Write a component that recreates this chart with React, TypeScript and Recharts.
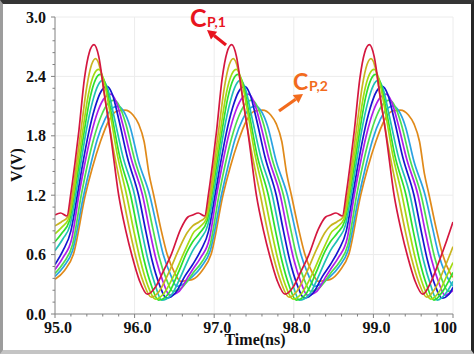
import { LineChart, Line, XAxis, YAxis, CartesianGrid } from 'recharts';

// x axis (ns) and y axis (V) ticks
const X_MAJOR = [95, 96, 97, 98, 99, 100];
const X_LABELS = ['95.0', '96.0', '97.0', '98.0', '99.0', '100'];
const Y_MAJOR = [0, 0.6, 1.2, 1.8, 2.4, 3.0];
const Y_LABELS = ['0.0', '0.6', '1.2', '1.8', '2.4', '3.0'];

// [time ns, voltage V], from C_P,1 (red) to C_P,2 (orange)
const RED: [number, number][] = [
  [95.00, 1.00], [95.07, 1.02], [95.15, 0.99], [95.20, 1.22], [95.25, 1.52], [95.30, 1.85], [95.37, 2.38], [95.43, 2.64], [95.49, 2.72], [95.55, 2.60], [95.62, 2.22], [95.70, 1.80], [95.80, 1.20], [95.89, 0.84], [95.97, 0.58], [96.06, 0.34], [96.16, 0.20], [96.26, 0.27], [96.36, 0.43], [96.46, 0.60], [96.58, 0.86], [96.67, 0.98],
  [96.73, 1.00], [96.80, 1.02], [96.88, 0.99], [96.93, 1.22], [96.98, 1.52], [97.03, 1.85], [97.10, 2.38], [97.16, 2.64], [97.22, 2.72], [97.28, 2.60], [97.35, 2.22], [97.43, 1.80], [97.53, 1.20], [97.62, 0.84], [97.70, 0.58], [97.79, 0.34], [97.89, 0.20], [97.99, 0.27], [98.09, 0.43], [98.19, 0.60], [98.31, 0.86], [98.40, 0.98],
  [98.46, 1.00], [98.53, 1.02], [98.61, 0.99], [98.66, 1.22], [98.71, 1.52], [98.76, 1.85], [98.83, 2.38], [98.89, 2.64], [98.95, 2.72], [99.01, 2.60], [99.08, 2.22], [99.16, 1.80], [99.26, 1.20], [99.35, 0.84], [99.43, 0.58], [99.52, 0.34], [99.62, 0.20], [99.72, 0.32], [99.82, 0.52], [99.92, 0.74], [100.00, 0.93],
];
const OLIVE: [number, number][] = [
  [95.00, 0.89], [95.08, 0.93], [95.16, 0.98], [95.22, 1.22], [95.27, 1.52], [95.33, 1.88], [95.40, 2.30], [95.46, 2.52], [95.51, 2.58], [95.57, 2.47], [95.64, 2.12], [95.73, 1.68], [95.85, 1.20], [95.94, 0.84], [96.02, 0.56], [96.11, 0.32], [96.21, 0.17], [96.31, 0.23], [96.43, 0.42], [96.56, 0.66], [96.66, 0.82],
  [96.73, 0.89], [96.81, 0.93], [96.89, 0.98], [96.95, 1.22], [97.00, 1.52], [97.06, 1.88], [97.13, 2.30], [97.19, 2.52], [97.24, 2.58], [97.30, 2.47], [97.37, 2.12], [97.46, 1.68], [97.58, 1.20], [97.67, 0.84], [97.75, 0.56], [97.84, 0.32], [97.94, 0.17], [98.04, 0.23], [98.16, 0.42], [98.29, 0.66], [98.39, 0.82],
  [98.46, 0.89], [98.54, 0.93], [98.62, 0.98], [98.68, 1.22], [98.73, 1.52], [98.79, 1.88], [98.86, 2.30], [98.92, 2.52], [98.97, 2.58], [99.03, 2.47], [99.10, 2.12], [99.19, 1.68], [99.31, 1.20], [99.40, 0.84], [99.48, 0.56], [99.57, 0.32], [99.67, 0.17], [99.77, 0.25], [99.89, 0.46], [100.00, 0.68],
];
const LIME: [number, number][] = [
  [95.00, 0.81], [95.09, 0.88], [95.17, 0.96], [95.23, 1.20], [95.28, 1.48], [95.35, 1.86], [95.42, 2.22], [95.49, 2.42], [95.55, 2.47], [95.61, 2.37], [95.69, 2.04], [95.78, 1.62], [95.90, 1.20], [95.99, 0.84], [96.07, 0.55], [96.16, 0.30], [96.26, 0.15], [96.37, 0.21], [96.50, 0.40], [96.62, 0.62], [96.70, 0.76],
  [96.73, 0.81], [96.82, 0.88], [96.90, 0.96], [96.96, 1.20], [97.01, 1.48], [97.08, 1.86], [97.15, 2.22], [97.22, 2.42], [97.28, 2.47], [97.34, 2.37], [97.42, 2.04], [97.51, 1.62], [97.63, 1.20], [97.72, 0.84], [97.80, 0.55], [97.89, 0.30], [97.99, 0.15], [98.10, 0.21], [98.23, 0.40], [98.35, 0.62], [98.43, 0.76],
  [98.46, 0.81], [98.55, 0.88], [98.63, 0.96], [98.69, 1.20], [98.74, 1.48], [98.81, 1.86], [98.88, 2.22], [98.95, 2.42], [99.01, 2.47], [99.07, 2.37], [99.15, 2.04], [99.24, 1.62], [99.36, 1.20], [99.45, 0.84], [99.53, 0.55], [99.62, 0.30], [99.72, 0.15], [99.83, 0.23], [99.93, 0.40], [100.00, 0.52],
];
const GREEN: [number, number][] = [
  [95.00, 0.73], [95.09, 0.82], [95.18, 0.94], [95.24, 1.20], [95.30, 1.50], [95.37, 1.86], [95.44, 2.18], [95.51, 2.37], [95.57, 2.42], [95.63, 2.33], [95.71, 2.02], [95.81, 1.60], [95.95, 1.20], [96.04, 0.84], [96.12, 0.54], [96.21, 0.29], [96.30, 0.14], [96.42, 0.20], [96.55, 0.42], [96.66, 0.63],
  [96.73, 0.73], [96.82, 0.82], [96.91, 0.94], [96.97, 1.20], [97.03, 1.50], [97.10, 1.86], [97.17, 2.18], [97.24, 2.37], [97.30, 2.42], [97.36, 2.33], [97.44, 2.02], [97.54, 1.60], [97.68, 1.20], [97.77, 0.84], [97.85, 0.54], [97.94, 0.29], [98.03, 0.14], [98.15, 0.20], [98.28, 0.42], [98.39, 0.63],
  [98.46, 0.73], [98.55, 0.82], [98.64, 0.94], [98.70, 1.20], [98.76, 1.50], [98.83, 1.86], [98.90, 2.18], [98.97, 2.37], [99.03, 2.42], [99.09, 2.33], [99.17, 2.02], [99.27, 1.60], [99.41, 1.20], [99.50, 0.84], [99.58, 0.54], [99.67, 0.29], [99.76, 0.14], [99.88, 0.24], [100.00, 0.42],
];
const TEAL: [number, number][] = [
  [95.00, 0.64], [95.10, 0.76], [95.19, 0.90], [95.26, 1.20], [95.32, 1.50], [95.39, 1.84], [95.47, 2.14], [95.54, 2.31], [95.60, 2.36], [95.66, 2.28], [95.74, 2.00], [95.85, 1.60], [96.00, 1.20], [96.09, 0.84], [96.17, 0.54], [96.26, 0.29], [96.34, 0.14], [96.46, 0.19], [96.58, 0.38], [96.68, 0.56],
  [96.73, 0.64], [96.83, 0.76], [96.92, 0.90], [96.99, 1.20], [97.05, 1.50], [97.12, 1.84], [97.20, 2.14], [97.27, 2.31], [97.33, 2.36], [97.39, 2.28], [97.47, 2.00], [97.58, 1.60], [97.73, 1.20], [97.82, 0.84], [97.90, 0.54], [97.99, 0.29], [98.07, 0.14], [98.19, 0.19], [98.31, 0.38], [98.41, 0.56],
  [98.46, 0.64], [98.56, 0.76], [98.65, 0.90], [98.72, 1.20], [98.78, 1.50], [98.85, 1.84], [98.93, 2.14], [99.00, 2.31], [99.06, 2.36], [99.12, 2.28], [99.20, 2.00], [99.31, 1.60], [99.46, 1.20], [99.55, 0.84], [99.63, 0.54], [99.72, 0.29], [99.80, 0.14], [99.92, 0.22], [100.00, 0.33],
];
const BLUE: [number, number][] = [
  [95.00, 0.50], [95.10, 0.64], [95.20, 0.84], [95.28, 1.20], [95.34, 1.48], [95.42, 1.82], [95.50, 2.08], [95.58, 2.25], [95.65, 2.30], [95.72, 2.22], [95.80, 1.97], [95.91, 1.58], [96.05, 1.20], [96.14, 0.84], [96.22, 0.54], [96.31, 0.30], [96.40, 0.16], [96.52, 0.22], [96.63, 0.38],
  [96.73, 0.50], [96.83, 0.64], [96.93, 0.84], [97.01, 1.20], [97.07, 1.48], [97.15, 1.82], [97.23, 2.08], [97.31, 2.25], [97.38, 2.30], [97.45, 2.22], [97.53, 1.97], [97.64, 1.58], [97.78, 1.20], [97.87, 0.84], [97.95, 0.54], [98.04, 0.30], [98.13, 0.16], [98.25, 0.22], [98.36, 0.38],
  [98.46, 0.50], [98.56, 0.64], [98.66, 0.84], [98.74, 1.20], [98.80, 1.48], [98.88, 1.82], [98.96, 2.08], [99.04, 2.25], [99.11, 2.30], [99.18, 2.22], [99.26, 1.97], [99.37, 1.58], [99.51, 1.20], [99.60, 0.84], [99.68, 0.54], [99.77, 0.30], [99.86, 0.16], [99.95, 0.20], [100.00, 0.27],
];
const PURPLE: [number, number][] = [
  [95.00, 0.45], [95.10, 0.57], [95.21, 0.76], [95.30, 1.20], [95.37, 1.50], [95.45, 1.80], [95.54, 2.05], [95.63, 2.19], [95.70, 2.22], [95.77, 2.14], [95.85, 1.92], [95.96, 1.56], [96.10, 1.20], [96.19, 0.84], [96.27, 0.55], [96.36, 0.32], [96.44, 0.19], [96.56, 0.23], [96.66, 0.36],
  [96.73, 0.45], [96.83, 0.57], [96.94, 0.76], [97.03, 1.20], [97.10, 1.50], [97.18, 1.80], [97.27, 2.05], [97.36, 2.19], [97.43, 2.22], [97.50, 2.14], [97.58, 1.92], [97.69, 1.56], [97.83, 1.20], [97.92, 0.84], [98.00, 0.55], [98.09, 0.32], [98.17, 0.19], [98.29, 0.23], [98.39, 0.36],
  [98.46, 0.45], [98.56, 0.57], [98.67, 0.76], [98.76, 1.20], [98.83, 1.50], [98.91, 1.80], [99.00, 2.05], [99.09, 2.19], [99.16, 2.22], [99.23, 2.14], [99.31, 1.92], [99.42, 1.56], [99.56, 1.20], [99.65, 0.84], [99.73, 0.55], [99.82, 0.32], [99.90, 0.19], [100.00, 0.24],
];
const GREEN2: [number, number][] = [
  [95.00, 0.41], [95.11, 0.52], [95.22, 0.70], [95.33, 1.20], [95.40, 1.48], [95.49, 1.78], [95.58, 2.00], [95.67, 2.13], [95.74, 2.16], [95.81, 2.10], [95.89, 1.92], [96.00, 1.56], [96.14, 1.20], [96.23, 0.86], [96.31, 0.57], [96.40, 0.35], [96.48, 0.23], [96.60, 0.27], [96.68, 0.35],
  [96.73, 0.41], [96.84, 0.52], [96.95, 0.70], [97.06, 1.20], [97.13, 1.48], [97.22, 1.78], [97.31, 2.00], [97.40, 2.13], [97.47, 2.16], [97.54, 2.10], [97.62, 1.92], [97.73, 1.56], [97.87, 1.20], [97.96, 0.86], [98.04, 0.57], [98.13, 0.35], [98.21, 0.23], [98.33, 0.27], [98.41, 0.35],
  [98.46, 0.41], [98.57, 0.52], [98.68, 0.70], [98.79, 1.20], [98.86, 1.48], [98.95, 1.78], [99.04, 2.00], [99.13, 2.13], [99.20, 2.16], [99.27, 2.10], [99.35, 1.92], [99.46, 1.56], [99.60, 1.20], [99.69, 0.86], [99.77, 0.57], [99.86, 0.35], [99.94, 0.23], [100.00, 0.24],
];
const SKY: [number, number][] = [
  [95.00, 0.38], [95.11, 0.48], [95.22, 0.64], [95.36, 1.20], [95.44, 1.48], [95.53, 1.76], [95.63, 1.97], [95.72, 2.08], [95.79, 2.10], [95.86, 2.05], [95.94, 1.90], [96.05, 1.54], [96.19, 1.20], [96.28, 0.88], [96.36, 0.60], [96.45, 0.40], [96.53, 0.28], [96.63, 0.31], [96.70, 0.36],
  [96.73, 0.38], [96.84, 0.48], [96.95, 0.64], [97.09, 1.20], [97.17, 1.48], [97.26, 1.76], [97.36, 1.97], [97.45, 2.08], [97.52, 2.10], [97.59, 2.05], [97.67, 1.90], [97.78, 1.54], [97.92, 1.20], [98.01, 0.88], [98.09, 0.60], [98.18, 0.40], [98.26, 0.28], [98.36, 0.31], [98.43, 0.36],
  [98.46, 0.38], [98.57, 0.48], [98.68, 0.64], [98.82, 1.20], [98.90, 1.48], [98.99, 1.76], [99.09, 1.97], [99.18, 2.08], [99.25, 2.10], [99.32, 2.05], [99.40, 1.90], [99.51, 1.54], [99.65, 1.20], [99.74, 0.88], [99.82, 0.60], [99.91, 0.40], [100.00, 0.28],
];
const ORANGE: [number, number][] = [
  [95.00, 0.35], [95.12, 0.44], [95.23, 0.60], [95.38, 1.20], [95.47, 1.48], [95.57, 1.74], [95.68, 1.96], [95.78, 2.05], [95.88, 2.06], [95.98, 2.01], [96.05, 1.92], [96.12, 1.74], [96.18, 1.42], [96.24, 1.20], [96.33, 0.86], [96.41, 0.60], [96.50, 0.42], [96.58, 0.33], [96.66, 0.34],
  [96.73, 0.35], [96.85, 0.44], [96.96, 0.60], [97.11, 1.20], [97.20, 1.48], [97.30, 1.74], [97.41, 1.96], [97.51, 2.05], [97.61, 2.06], [97.71, 2.01], [97.78, 1.92], [97.85, 1.74], [97.91, 1.42], [97.97, 1.20], [98.06, 0.86], [98.14, 0.60], [98.23, 0.42], [98.31, 0.33], [98.39, 0.34],
  [98.46, 0.35], [98.58, 0.44], [98.69, 0.60], [98.84, 1.20], [98.93, 1.48], [99.03, 1.74], [99.14, 1.96], [99.24, 2.05], [99.34, 2.06], [99.44, 2.01], [99.51, 1.92], [99.58, 1.74], [99.64, 1.42], [99.70, 1.20], [99.79, 0.86], [99.87, 0.60], [99.96, 0.42], [100.00, 0.37],
];

const SERIES = [RED, OLIVE, LIME, GREEN, TEAL, BLUE, PURPLE, GREEN2, SKY, ORANGE];
const COLORS = ['#d4173f', '#c9b520', '#a2dc12', '#2ee02e', '#1fc0b6', '#1616d0', '#b01ee8', '#4ee04e', '#2aa2e2', '#e08a1a'];

// minor ticks: 0.2 ns and 0.12 V
const X_TICKS = Array.from({ length: 26 }, (_, i) => +(95 + i * 0.2).toFixed(1));
const Y_TICKS = Array.from({ length: 26 }, (_, i) => +(i * 0.12).toFixed(2));

const tickFont = { fontFamily: '"Liberation Serif", serif', fontWeight: 700, fontSize: 16, fill: '#111' };

function XTick(props: any) {
  const { x, y, payload } = props;
  const i = X_MAJOR.findIndex(m => Math.abs(m - payload.value) < 1e-6);
  const last = i === X_MAJOR.length - 1;
  return (
    <g>
      <line x1={x} y1={y} x2={x} y2={y + (i >= 0 ? 4 : 2.5)} stroke="#808080" />
      {i >= 0 && (
        <text x={last ? x + 4 : x + 3} y={y + 19} textAnchor={last ? 'end' : 'middle'} {...tickFont}>
          {X_LABELS[i]}
        </text>
      )}
    </g>
  );
}

function YTick(props: any) {
  const { x, y, payload } = props;
  const i = Y_MAJOR.findIndex(m => Math.abs(m - payload.value) < 1e-6);
  return (
    <g>
      <line x1={x - (i >= 0 ? 4 : 2.5)} y1={y} x2={x} y2={y} stroke="#808080" />
      {i >= 0 && (
        <text x={x - 9} y={y + 5.5} textAnchor="end" {...tickFont}>
          {Y_LABELS[i]}
        </text>
      )}
    </g>
  );
}

function Arrow({ x1, y1, x2, y2, color }: { x1: number; y1: number; x2: number; y2: number; color: string }) {
  const a = Math.atan2(y2 - y1, x2 - x1);
  const len = 9, half = 5;
  const bx = x2 - len * Math.cos(a), by = y2 - len * Math.sin(a);
  const px = -Math.sin(a) * half, py = Math.cos(a) * half;
  return (
    <g>
      <line x1={x1} y1={y1} x2={bx} y2={by} stroke={color} strokeWidth={3.2} />
      <polygon points={`${x2},${y2} ${bx + px},${by + py} ${bx - px},${by - py}`} fill={color} />
    </g>
  );
}

export default function App() {
  const label = { fontFamily: 'Lato, "Open Sans", sans-serif', fontWeight: 700 };
  return (
    <div
      style={{
        position: 'absolute', left: 0, top: 0, width: 474, height: 354, boxSizing: 'border-box',
        borderTop: '4px solid #353535', borderRight: '3px solid #262626',
        borderBottom: '4px solid #c4c4c4', borderLeft: '3px solid #9c9c9c', background: '#fff',
      }}
    >
      <LineChart width={468} height={346} margin={{ top: 13, right: 18, bottom: 0, left: 0 }}>
        <CartesianGrid stroke="#ececec" horizontalValues={Y_MAJOR} verticalValues={X_MAJOR} />
        <XAxis
          type="number" dataKey="t" domain={[95, 100]} ticks={X_TICKS} interval={0}
          tickSize={0} tickMargin={0} tickLine={false} tick={(p: any) => <XTick {...p} />}
          height={36} axisLine={{ stroke: '#8a8a8a' }} allowDataOverflow
        />
        <YAxis
          type="number" domain={[0, 3]} ticks={Y_TICKS} interval={0}
          tickSize={0} tickMargin={0} tickLine={false} tick={(p: any) => <YTick {...p} />}
          width={52} axisLine={{ stroke: '#8a8a8a' }} allowDataOverflow
        />
        {SERIES.map((pts, i) => ({ pts, i })).reverse().map(({ pts, i }) => (
          <Line
            key={i}
            data={pts.map(([t, v]) => ({ t, v }))}
            dataKey="v"
            type="monotone"
            stroke={COLORS[i]}
            strokeWidth={1.7}
            dot={false}
            isAnimationActive={false}
          />
        ))}
      </LineChart>
      <svg width={474} height={354} style={{ position: 'absolute', left: -3, top: -4, pointerEvents: 'none' }}>
        <text x={22} y={165} transform="rotate(-90 22 165)" textAnchor="middle" {...tickFont}>V(V)</text>
        <text x={255} y={345} textAnchor="middle" {...tickFont}>Time(ns)</text>
        <text x={190} y={27} fill="#e8141e" fontSize={25} {...label}>C</text>
        <text x={207} y={27} fill="#e8141e" fontSize={14} {...label}>P,1</text>
        <Arrow x1={226} y1={45} x2={207} y2={30} color="#e8141e" />
        <text x={293} y={90} fill="#f26b1d" fontSize={23} {...label}>C</text>
        <text x={309} y={91} fill="#f26b1d" fontSize={14} {...label}>P,2</text>
        <Arrow x1={279} y1={111} x2={303} y2={94} color="#f26b1d" />
      </svg>
    </div>
  );
}
